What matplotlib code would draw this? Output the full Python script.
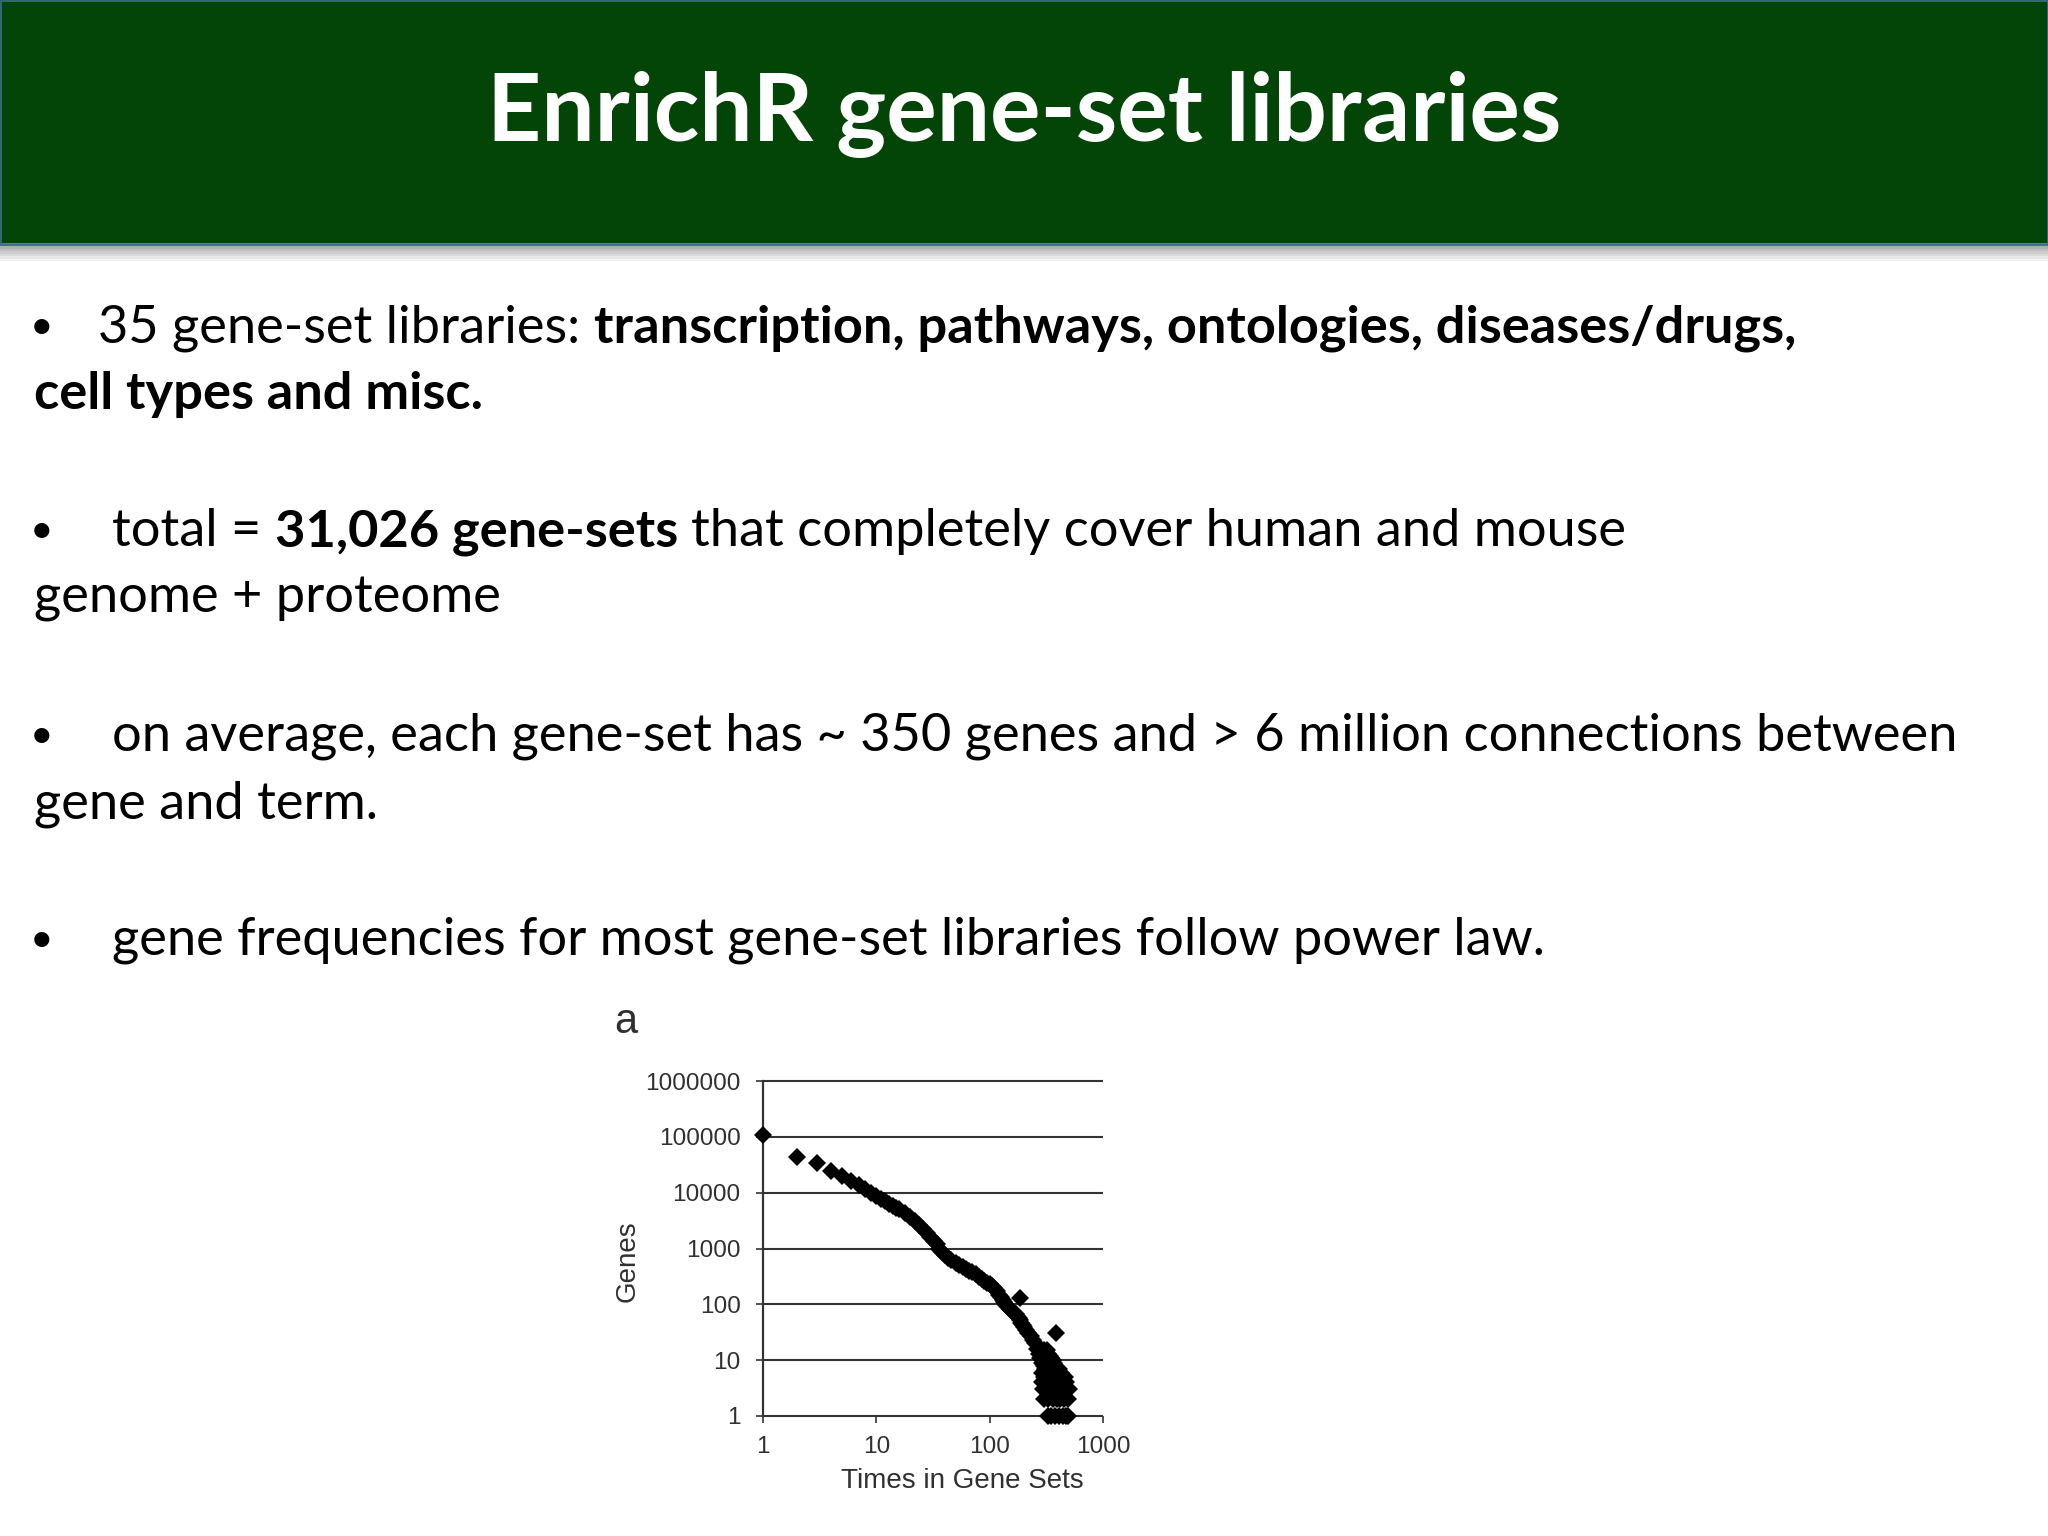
import matplotlib
matplotlib.use('Agg')
import matplotlib.pyplot as plt
from matplotlib.patches import Rectangle
from matplotlib.ticker import FixedLocator, FixedFormatter, NullLocator

# ---- slide text ----
title = 'EnrichR gene-set libraries'
bullet_lines = [
    [('35 gene-set libraries:', 'normal'), ('transcription, pathways, ontologies, diseases/drugs,', 'bold')],
    [('cell types and misc.', 'bold')],
    [('total =', 'normal'), ('31,026 gene-sets', 'bold'), ('that completely cover human and mouse', 'normal')],
    [('genome + proteome', 'normal')],
    [('on average, each gene-set has ~ 350 genes and > 6 million connections between', 'normal')],
    [('gene and term.', 'normal')],
    [('gene frequencies for most gene-set libraries follow power law.', 'normal')],
]
has_bullet = [True, False, True, False, True, False, True]

# ---- chart data ----
times = [1, 2, 3, 4, 5, 6, 7, 8, 9, 10, 11, 12, 13, 14, 15, 16, 18, 20, 22, 24,
         26, 28, 30, 32, 34, 36, 38, 40, 43, 46, 50, 54, 58, 62, 66, 70, 75, 80,
         85, 90, 95, 100, 105, 110, 115, 120, 125, 130, 135, 140, 145, 150, 155,
         160, 165, 170, 175, 180, 185, 190, 195, 200, 210, 220, 230, 240, 250,
         260, 270, 280, 290]
genes = [108000, 43700, 34600, 24500, 19800, 16200, 13500, 11500, 9900, 8700,
         7800, 7000, 6300, 5800, 5300, 5000, 4300, 3650, 3100, 2600, 2200, 1880,
         1600, 1380, 1180, 1000, 860, 760, 670, 610, 550, 500, 460, 430, 400,
         375, 345, 315, 290, 265, 245, 228, 212, 195, 170, 150, 135, 120, 108,
         98, 90, 84, 79, 74, 70, 66, 62, 57, 52, 47, 43, 40, 35, 31, 27, 23, 20,
         16, 13, 11, 9]
# low-count cloud and outliers
tail_times = [185, 385,
              280, 300, 320, 290, 310, 330, 300, 340, 320, 350, 300, 330, 360,
              310, 340, 370, 300, 320, 350, 380, 310, 330, 360, 390, 410,
              290, 320, 340, 370, 400, 430, 300, 330, 350, 380, 410, 440, 460,
              290, 310, 340, 360, 390, 420, 450, 470,
              295, 320, 350, 380, 410, 440, 470, 500,
              300, 330, 360, 390, 420, 450, 490,
              325, 350, 380, 410, 440, 470, 490]
tail_genes = [130, 31,
              15, 15, 15, 13, 13, 13, 12, 12, 11, 11, 10, 10, 10,
              9, 9, 9, 8, 8, 8, 8, 7, 7, 7, 7, 7,
              6, 6, 6, 6, 6, 6, 5, 5, 5, 5, 5, 5, 5,
              4, 4, 4, 4, 4, 4, 4, 4,
              3, 3, 3, 3, 3, 3, 3, 3,
              2, 2, 2, 2, 2, 2, 2,
              1, 1, 1, 1, 1, 1, 1]
x_ticks = [1, 10, 100, 1000]
x_labels = ['1', '10', '100', '1000']
y_ticks = [1, 10, 100, 1000, 10000, 100000, 1000000]
y_labels = ['1', '10', '100', '1000', '10000', '100000', '1000000']

W, H = 2048, 1536
BODY = ['Lato', 'DejaVu Sans']
CHART = ['Liberation Sans', 'DejaVu Sans']

fig = plt.figure(figsize=(W / 200, H / 200), dpi=200)
fig.patch.set_facecolor('white')
bg = fig.add_axes([0, 0, 1, 1])
bg.set_xlim(0, W)
bg.set_ylim(H, 0)
bg.axis('off')
renderer = fig.canvas.get_renderer()

# banner + shadow
bg.add_patch(Rectangle((0, 0), W, 243, facecolor='#024506', lw=0, zorder=1))
bg.add_patch(Rectangle((0, 243), W, 3, facecolor='#4f7fa6', lw=0, zorder=2))
for i, c in enumerate(['#b0b0b0', '#bdbdbd', '#cccccc', '#dadada', '#e7e7e7', '#f3f3f3']):
    bg.add_patch(Rectangle((0, 246 + 2.5 * i), W, 2.5, facecolor=c, lw=0, zorder=1))
bg.add_patch(Rectangle((0.5, 0.5), W - 1, 244, fill=False, edgecolor='#3d6e8e', lw=0.6, zorder=3))


def text_w(s, size, weight, family):
    t = bg.text(0, 0, s, fontsize=size, fontweight=weight, family=family)
    w = t.get_window_extent(renderer).width
    t.remove()
    return w


def line_w(segs, size):
    w = 0
    for i, (s, wt) in enumerate(segs):
        w += text_w(s, size, wt, BODY)
        if i:
            w += text_w('x x', size, 'normal', BODY) - text_w('xx', size, 'normal', BODY)
    return w


# title, sized to the reference width
tsize = 30 * 1074 / text_w(title, 30, 'bold', BODY)
bg.text(1024, 141, title, ha='center', va='baseline', color='white',
        fontsize=tsize, fontweight='bold', family=BODY, zorder=4)

# body text, sized so the longest line spans the reference width
bsize = 20 * 1843 / line_w(bullet_lines[4], 20)
baselines = [342, 409, 546, 613, 751, 818, 955]
starts = [98, 34, 112, 34, 112, 34, 112]
space = text_w('x x', bsize, 'normal', BODY) - text_w('xx', bsize, 'normal', BODY)
for segs, yb, x0, bl in zip(bullet_lines, baselines, starts, has_bullet):
    if bl:
        bg.text(42, yb - 3, '\u2022', ha='center', va='baseline', fontsize=bsize * 0.78, family=BODY)
    x = x0
    for i, (s, wt) in enumerate(segs):
        if i:
            x += space
        t = bg.text(x, yb, s, ha='left', va='baseline', fontsize=bsize,
                    fontweight=wt, family=BODY, color='black')
        x += t.get_window_extent(renderer).width

# ---- the scatter plot ----
ax = fig.add_axes([763 / W, 1 - 1416 / H, 340 / W, 335 / H])
ax.set_xscale('log')
ax.set_yscale('log')
ax.set_xlim(1, 1000)
ax.set_ylim(1, 1e6)
ax.hlines(y_ticks, 1, 1000, colors='#333333', lw=0.75, zorder=1, clip_on=False)
ax.plot(times, genes, 'D', color='black', ms=4.4, mew=0, clip_on=False, zorder=3)
ax.plot(tail_times, tail_genes, 'D', color='black', ms=4.4, mew=0, clip_on=False, zorder=3)
for s in ['top', 'right', 'bottom']:
    ax.spines[s].set_visible(False)
ax.spines['left'].set_color('#333333')
ax.spines['left'].set_linewidth(0.8)
ax.xaxis.set_major_locator(FixedLocator(x_ticks))
ax.xaxis.set_major_formatter(FixedFormatter(x_labels))
ax.yaxis.set_major_locator(FixedLocator(y_ticks))
ax.yaxis.set_major_formatter(FixedFormatter(y_labels))
ax.xaxis.set_minor_locator(NullLocator())
ax.yaxis.set_minor_locator(NullLocator())
ax.tick_params(axis='both', length=2.5, width=0.6, color='#333333',
               labelsize=8.8, labelcolor='#303030')
ax.tick_params(axis='y', pad=5.6)
ax.tick_params(axis='x', pad=4.8)
for lab in ax.get_xticklabels() + ax.get_yticklabels():
    lab.set_family(CHART)
ax.set_facecolor('none')

bg.text(626, 1033, 'a', ha='center', va='baseline', fontsize=15, family=CHART, color='#303030')
bg.text(628, 1261, 'Genes', ha='center', va='center', rotation=90, fontsize=10,
        family=CHART, color='#303030')
bg.text(962, 1488, 'Times in Gene Sets', ha='center', va='baseline', fontsize=10,
        family=CHART, color='#303030')

fig.savefig('out.png', dpi=200, facecolor='white')
